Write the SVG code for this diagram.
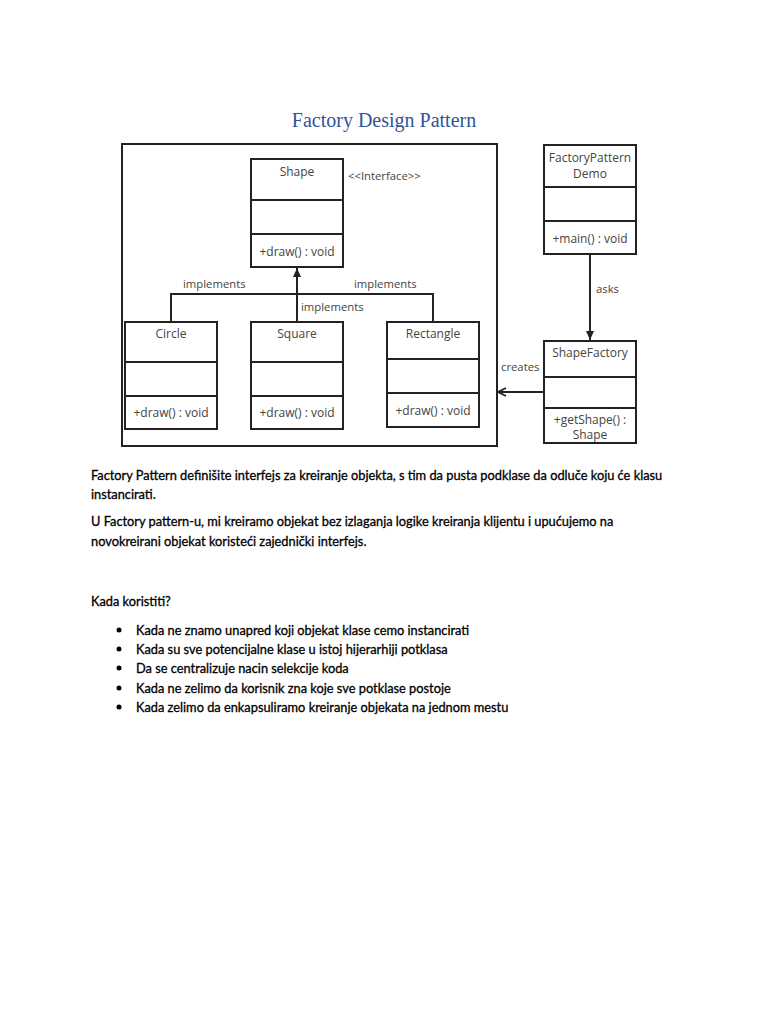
<svg xmlns="http://www.w3.org/2000/svg" width="768" height="1024" viewBox="0 0 768 1024">
<style>
.box{fill:#fff;stroke:#222;stroke-width:2}
.div{stroke:#222;stroke-width:2}
.t{font-family:"Open Sans","Noto Sans",sans-serif;font-size:12px;fill:#444;text-anchor:middle}
.lbl{font-family:"Open Sans","Noto Sans",sans-serif;font-size:11.3px;fill:#444}
.line{fill:none;stroke:#222;stroke-width:2}
.body{font-family:Lato,"Liberation Sans",sans-serif;font-size:12.8px;fill:#000;stroke:#000;stroke-width:0.3}
</style>
<defs>
<marker id="ah" markerWidth="10" markerHeight="10" refX="9" refY="5" orient="auto" markerUnits="userSpaceOnUse">
<path d="M1,1 L9,5 L1,9" fill="none" stroke="#222" stroke-width="1.8"/>
</marker>
<marker id="af" markerWidth="10" markerHeight="10" refX="9" refY="5" orient="auto" markerUnits="userSpaceOnUse">
<path d="M0,1 L9,5 L0,9 Z" fill="#222"/>
</marker>
</defs>
<rect width="768" height="1024" fill="#fff"/>
<text x="384" y="127" text-anchor="middle" font-family="'Liberation Serif',serif" font-size="20" fill="#2F5597">Factory Design Pattern</text>
<rect id="frame" x="122" y="144" width="375" height="302" fill="none" stroke="#222" stroke-width="2"/>
<g id="connectors">
<polyline class="line" points="171,322 171,294 433,294 433,322"/>
<line class="line" x1="297" y1="322" x2="297" y2="268" marker-end="url(#af)"/>
<text class="lbl" x="183" y="288">implements</text>
<text class="lbl" x="354" y="288">implements</text>
<text class="lbl" x="301" y="311">implements</text>
<line class="line" x1="590" y1="254" x2="590" y2="340" marker-end="url(#af)"/>
<text class="lbl" x="596" y="293">asks</text>
<line class="line" x1="544" y1="392" x2="498" y2="392" marker-end="url(#ah)"/>
<text class="lbl" x="501" y="371">creates</text>
</g>
<g id="shape">
<rect class="box" x="251" y="159" width="92" height="108"/>
<line class="div" x1="251" y1="200" x2="343" y2="200"/>
<line class="div" x1="251" y1="234" x2="343" y2="234"/>
<text class="t" x="297" y="176">Shape</text>
<text class="t" x="297" y="256">+draw() : void</text>
<text class="lbl" x="348" y="180">&lt;&lt;Interface&gt;&gt;</text>
</g>
<g id="circle">
<rect class="box" x="125" y="322" width="92" height="107"/>
<line class="div" x1="125" y1="362" x2="217" y2="362"/>
<line class="div" x1="125" y1="396" x2="217" y2="396"/>
<text class="t" x="171" y="338">Circle</text>
<text class="t" x="171" y="417">+draw() : void</text>
</g>
<g id="square">
<rect class="box" x="251" y="322" width="92" height="107"/>
<line class="div" x1="251" y1="362" x2="343" y2="362"/>
<line class="div" x1="251" y1="396" x2="343" y2="396"/>
<text class="t" x="297" y="338">Square</text>
<text class="t" x="297" y="417">+draw() : void</text>
</g>
<g id="rectangle">
<rect class="box" x="387" y="322" width="92" height="105"/>
<line class="div" x1="387" y1="359" x2="479" y2="359"/>
<line class="div" x1="387" y1="393" x2="479" y2="393"/>
<text class="t" x="433" y="338">Rectangle</text>
<text class="t" x="433" y="415">+draw() : void</text>
</g>
<g id="factorypatterndemo">
<rect class="box" x="544" y="145" width="92" height="109"/>
<line class="div" x1="544" y1="187" x2="636" y2="187"/>
<line class="div" x1="544" y1="221" x2="636" y2="221"/>
<text class="t" x="590" y="162">FactoryPattern</text>
<text class="t" x="590" y="178">Demo</text>
<text class="t" x="590" y="243">+main() : void</text>
</g>
<g id="shapefactory">
<rect class="box" x="544" y="341" width="92" height="102"/>
<line class="div" x1="544" y1="377" x2="636" y2="377"/>
<line class="div" x1="544" y1="408" x2="636" y2="408"/>
<text class="t" x="590" y="357">ShapeFactory</text>
<text class="t" x="590" y="424">+getShape() :</text>
<text class="t" x="590" y="439">Shape</text>
</g>
<g id="text">
<text class="body" x="91" y="480">Factory Pattern definišite interfejs za kreiranje objekta, s tim da pusta podklase da odluče koju će klasu</text>
<text class="body" x="91" y="499">instancirati.</text>
<text class="body" x="91" y="526">U Factory pattern-u, mi kreiramo objekat bez izlaganja logike kreiranja klijentu i upućujemo na</text>
<text class="body" x="91" y="546">novokreirani objekat koristeći zajednički interfejs.</text>
<text class="body" x="91" y="606">Kada koristiti?</text>
<g fill="#000">
<circle cx="119" cy="630" r="2.5"/>
<circle cx="119" cy="649" r="2.5"/>
<circle cx="119" cy="668" r="2.5"/>
<circle cx="119" cy="688" r="2.5"/>
<circle cx="119" cy="707" r="2.5"/>
</g>
<text class="body" x="136" y="635">Kada ne znamo unapred koji objekat klase cemo instancirati</text>
<text class="body" x="136" y="654">Kada su sve potencijalne klase u istoj hijerarhiji potklasa</text>
<text class="body" x="136" y="673">Da se centralizuje nacin selekcije koda</text>
<text class="body" x="136" y="693">Kada ne zelimo da korisnik zna koje sve potklase postoje</text>
<text class="body" x="136" y="712">Kada zelimo da enkapsuliramo kreiranje objekata na jednom mestu</text>
</g>
</svg>
